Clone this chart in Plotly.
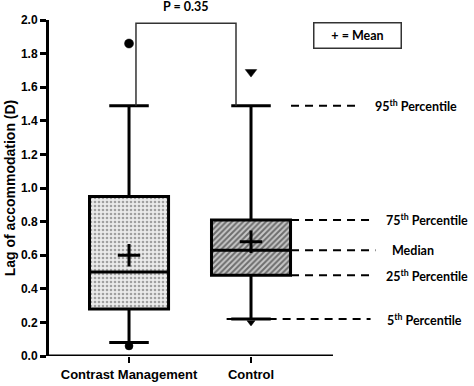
import plotly.graph_objects as go

# ---- data ----
categories = ["Contrast Management", "Control"]
xpos = [0, 1]
q1 = [0.28, 0.48]
median = [0.50, 0.63]
q3 = [0.95, 0.81]
lower_whisker = [0.08, 0.22]
upper_whisker = [1.49, 1.49]
means = [0.60, 0.68]
outlier_x = [0, 0, 1, 1]
outlier_y = [1.86, 0.06, 1.69, 0.20]
outlier_symbol = ["circle", "circle", "triangle-down", "triangle-down"]
outlier_size = [9, 8, 10, 7]
p_text = "P = 0.35"
ref_labels = ["95<sup>th</sup> Percentile", "75<sup>th</sup> Percentile", "Median",
              "25<sup>th</sup> Percentile", "5<sup>th</sup> Percentile"]
ref_values = [upper_whisker[1], q3[1], median[1], q1[1], lower_whisker[1]]
y_ticks = [0.0, 0.2, 0.4, 0.6, 0.8, 1.0, 1.2, 1.4, 1.6, 1.8, 2.0]

BOXW = 0.648
AXF = "Liberation Sans"
ANF = "Lato"
ANS = 12.5

fig = go.Figure()

# patterned fill of the boxes
fig.add_trace(go.Bar(
    x=xpos, y=[b - a for a, b in zip(q1, q3)], base=q1, width=BOXW,
    marker=dict(color="#e6e6e6", line=dict(width=0),
                pattern=dict(shape=[".", "/"], fgcolor=["#555555", "#111111"],
                             bgcolor=["#ebebeb", "#c8c8c8"], size=[4, 4],
                             solidity=[0.35, 0.5])),
    showlegend=False, hoverinfo="skip"))

fig.add_trace(go.Box(
    x=xpos, q1=q1, median=median, q3=q3,
    lowerfence=lower_whisker, upperfence=upper_whisker,
    width=BOXW, whiskerwidth=0.5,
    fillcolor="rgba(0,0,0,0)", line=dict(color="black", width=3),
    showlegend=False, hoverinfo="skip"))

fig.add_trace(go.Scatter(
    x=xpos, y=means, mode="markers",
    marker=dict(symbol="cross-thin", size=16, line=dict(color="black", width=3)),
    showlegend=False, hoverinfo="skip", cliponaxis=False))

fig.add_trace(go.Scatter(
    x=outlier_x, y=outlier_y, mode="markers", opacity=1,
    marker=dict(symbol=outlier_symbol, size=outlier_size, color="#000000", opacity=1,
                line=dict(color="#000000", width=0.5)),
    showlegend=False, hoverinfo="skip", cliponaxis=False))

# x axis line
fig.add_shape(type="line", xref="x", yref="y", x0=-0.656, x1=1.672, y0=0, y1=0,
              line=dict(color="black", width=3))

# significance bracket
bx0, bx1, btop = 0.057, 0.877, 1.98
fig.add_shape(type="path", xref="x", yref="y",
              path=f"M {bx0},{upper_whisker[0]} L {bx0},{btop} L {bx1},{btop} L {bx1},{upper_whisker[1]}",
              line=dict(color="#333333", width=1.5))
fig.add_annotation(x=(bx0 + bx1) / 2, y=btop, xref="x", yref="y", text=f"<b>{p_text}</b>",
                   showarrow=False, yanchor="bottom", yshift=7,
                   font=dict(family=ANF, size=ANS, color="black"))

# mean legend box
fig.add_annotation(x=1.875, y=1.91, xref="x", yref="y", text="<b>+ = Mean</b>",
                   showarrow=False, font=dict(family=ANF, size=ANS, color="black"),
                   bordercolor="#333333", borderwidth=1.5, width=84, height=22, borderpad=1)

# reference dashed lines
line_x0 = [1.328, 1.328, 1.328, 1.328, 0.80]
line_x1 = [1.88, 2.0, 2.02, 2.0, 1.98]
text_x = [2.0, 2.09, 2.14, 2.09, 2.098]
for lab, v, a, b, tx in zip(ref_labels, ref_values, line_x0, line_x1, text_x):
    fig.add_shape(type="line", xref="x", yref="y", x0=a, x1=b, y0=v, y1=v,
                  line=dict(color="black", width=2, dash="8px,6px"))
    fig.add_annotation(x=tx, y=v, xref="x", yref="y", text=f"<b>{lab}</b>",
                       showarrow=False, xanchor="left",
                       font=dict(family=ANF, size=ANS, color="black"))

fig.update_layout(
    width=474, height=386,
    margin=dict(l=49, r=0, t=20, b=30),
    paper_bgcolor="white", plot_bgcolor="white",
    xaxis=dict(range=[-0.656, 2.828], tickvals=xpos, ticktext=[f"<b>{c}</b>" for c in categories],
               showline=False, showgrid=False, zeroline=False, automargin=False,
               ticks="outside", ticklen=6, tickwidth=2, tickcolor="black",
               tickfont=dict(family=AXF, size=13, color="black")),
    yaxis=dict(range=[0, 2.0], tickvals=y_ticks, tickformat=".1f",
               showline=True, linewidth=3, linecolor="black", automargin=False,
               showgrid=False, zeroline=False,
               ticks="outside", ticklen=6, tickwidth=3, tickcolor="black",
               tickfont=dict(family=AXF, size=12, color="black", weight="bold"),
               title=dict(text="<b>Lag of accommodation (D)</b>",
                          font=dict(family=AXF, size=14, color="black"), standoff=3)),
    showlegend=False,
)

fig.write_html("out.html", config={"displayModeBar": False},
               post_script="document.body.style.margin='0';")
